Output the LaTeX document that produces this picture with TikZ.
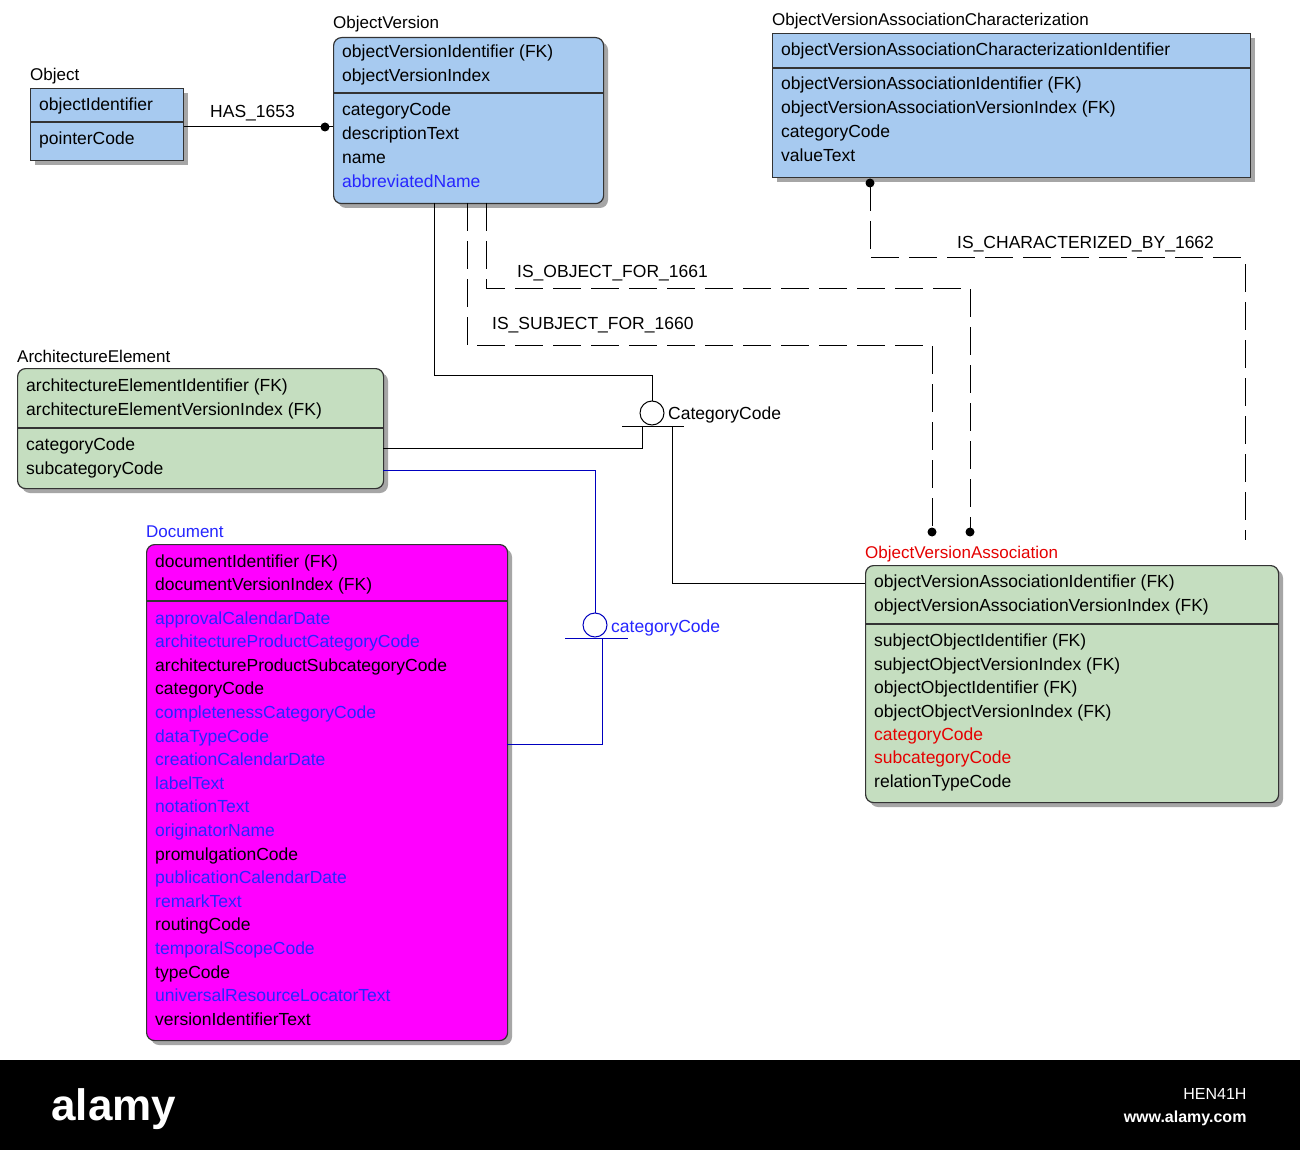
\documentclass[tikz,border=0pt]{standalone}
\usepackage{fontspec}
\setmainfont{Liberation Sans}
\begin{document}
\begin{tikzpicture}[x=1pt,y=-1pt,
  t/.style={anchor=base west,inner sep=0pt,font=\fontsize{17.5}{20}\selectfont},
  ttl/.style={t,font=\fontsize{17}{20}\selectfont},
  bl/.style={text=blue!85!white},
  k/.style={},
  rd/.style={text=red!90!black},
  box/.style={draw=black!80,line width=1.2pt},
  shd/.style={fill=black!35,draw=none},
  rel/.style={line width=1pt},
  dsh/.style={rel,dash pattern=on 28pt off 10pt},
  dot/.style={circle,fill=black,inner sep=0pt,minimum size=9pt},
  lbl/.style={anchor=base west,inner sep=0pt,font=\fontsize{17.5}{20}\selectfont}]
\definecolor{ovblue}{RGB}{167,202,240}
\definecolor{aegreen}{RGB}{197,222,192}
\definecolor{docmag}{RGB}{255,0,255}
\useasboundingbox (0,0) rectangle (1300,1150);
\fill[white] (0,0) rectangle (1300,1060);
% shadows
\fill[shd] (35,93) rectangle (188,165);
\fill[shd,rounded corners=8pt] (338,42) rectangle (608,208);
\fill[shd] (777,38) rectangle (1255,182);
\fill[shd,rounded corners=8pt] (22,373) rectangle (388,493);
\fill[shd,rounded corners=8pt] (151,549) rectangle (512,1045);
\fill[shd,rounded corners=8pt] (870,570) rectangle (1283,807);
% boxes
\node[box,fill=ovblue,minimum width=153pt,minimum height=72pt,inner sep=0pt,anchor=north west] (obj) at (30,88) {};
\draw[box] (30,122) -- (183,122);
\node[box,fill=ovblue,rounded corners=8pt,minimum width=270pt,minimum height=166pt,inner sep=0pt,anchor=north west] (ov) at (333,37) {};
\draw[box] (333,93) -- (603,93);
\node[box,fill=ovblue,minimum width=478pt,minimum height=144pt,inner sep=0pt,anchor=north west] (ovac) at (772,33) {};
\draw[box] (772,68) -- (1250,68);
\node[box,fill=aegreen,rounded corners=8pt,minimum width=366pt,minimum height=120pt,inner sep=0pt,anchor=north west] (ae) at (17,368) {};
\draw[box] (17,428) -- (383,428);
\node[box,fill=docmag,rounded corners=8pt,minimum width=361pt,minimum height=496pt,inner sep=0pt,anchor=north west] (doc) at (146,544) {};
\draw[box] (146,601) -- (507,601);
\node[box,fill=aegreen,rounded corners=8pt,minimum width=413pt,minimum height=237pt,inner sep=0pt,anchor=north west] (ova) at (865,565) {};
\draw[box] (865,624) -- (1278,624);
% titles
\node[ttl] at (30,81) {Object};
\node[ttl] at (333,29) {ObjectVersion};
\node[ttl] at (772,26) {ObjectVersionAssociationCharacterization};
\node[ttl] at (17,362) {ArchitectureElement};
\node[ttl,bl] at (146,537) {Document};
\node[ttl,rd] at (865,558) {ObjectVersionAssociation};
% Object
\node[t] at (39,111) {objectIdentifier};
\node[t] at (39,145) {pointerCode};
% ObjectVersion
\foreach \s/\y in {objectVersionIdentifier (FK)/58,objectVersionIndex/82,categoryCode/116,descriptionText/140,name/164}
  \node[t] at (342,\y) {\s};
\node[t,bl] at (342,188) {abbreviatedName};
% OVAC
\foreach \s/\y in {objectVersionAssociationCharacterizationIdentifier/56,objectVersionAssociationIdentifier (FK)/90,objectVersionAssociationVersionIndex (FK)/114,categoryCode/138,valueText/162}
  \node[t] at (781,\y) {\s};
% AE
\foreach \s/\y in {architectureElementIdentifier (FK)/391,architectureElementVersionIndex (FK)/415,categoryCode/450,subcategoryCode/474}
  \node[t] at (26,\y) {\s};
% Document
\node[t] at (155,567) {documentIdentifier (FK)};
\node[t] at (155,590) {documentVersionIndex (FK)};
\foreach \s/\c [count=\i from 0] in {approvalCalendarDate/bl,architectureProductCategoryCode/bl,architectureProductSubcategoryCode/k,categoryCode/k,completenessCategoryCode/bl,dataTypeCode/bl,creationCalendarDate/bl,labelText/bl,notationText/bl,originatorName/bl,promulgationCode/k,publicationCalendarDate/bl,remarkText/bl,routingCode/k,temporalScopeCode/bl,typeCode/k,universalResourceLocatorText/bl,versionIdentifierText/k}
  \node[t,\c] at (155,624+23.6*\i) {\s};
% OVA
\foreach \s/\y in {objectVersionAssociationIdentifier (FK)/587,objectVersionAssociationVersionIndex (FK)/611,subjectObjectIdentifier (FK)/646,subjectObjectVersionIndex (FK)/670,objectObjectIdentifier (FK)/693,objectObjectVersionIndex (FK)/717}
  \node[t] at (874,\y) {\s};
\node[t,rd] at (874,740) {categoryCode};
\node[t,rd] at (874,763) {subcategoryCode};
\node[t] at (874,787) {relationTypeCode};
% HAS_1653
\draw[rel] (obj.east |- 0,127) -- (ov.west |- 0,127);
\node[dot] at (325,127) {};
\node[lbl] at (210,118) {HAS\_1653};
% Category subtype
\node[circle,draw,line width=1pt,minimum size=24pt,inner sep=0pt] (cc) at (652,413) {};
\node[lbl] at (668,419) {CategoryCode};
\draw[rel] (622,426) -- (684,426);
\draw[rel] (434,203) -- (434,375) -- (652,375) -- (cc.north);
\draw[rel] (383,448) -- (642,448) -- (642,426);
\draw[rel] (672,426) -- (672,583) -- (865,583);
% blue subtype
\node[circle,draw=blue!75!black,line width=1pt,minimum size=24pt,inner sep=0pt] (dc) at (595,625) {};
\node[lbl,bl] at (611,632) {categoryCode};
\draw[rel,blue!75!black] (565,638) -- (628,638);
\draw[rel,blue!75!black] (383,470) -- (595,470) -- (dc.north);
\draw[rel,blue!75!black] (602,638) -- (602,744) -- (507,744);
% dashed relationships
\draw[dsh] (467,203) -- (467,345) -- (932,345) -- (932,532);
\node[dot] at (932,532) {};
\node[lbl] at (492,329) {IS\_SUBJECT\_FOR\_1660};
\draw[dsh] (486,203) -- (486,288) -- (970,288) -- (970,532);
\node[dot] at (970,532) {};
\node[lbl] at (517,277) {IS\_OBJECT\_FOR\_1661};
\draw[dsh] (870,183) -- (870,258) -- (1245,258) -- (1245,540);
\node[dot] at (870,183) {};
\node[lbl] at (957,248) {IS\_CHARACTERIZED\_BY\_1662};
% bottom band
\fill[black] (0,1060) rectangle (1300,1150);
\node[anchor=base west,text=white,font=\bfseries\fontsize{44}{44}\selectfont] at (48,1120) {alamy};
\node[anchor=base east,text=white,font=\fontsize{16}{18}\selectfont] at (1250,1099) {HEN41H};
\node[anchor=base east,text=white,font=\bfseries\fontsize{16}{18}\selectfont] at (1250,1122) {www.alamy.com};
\end{tikzpicture}
\end{document}
